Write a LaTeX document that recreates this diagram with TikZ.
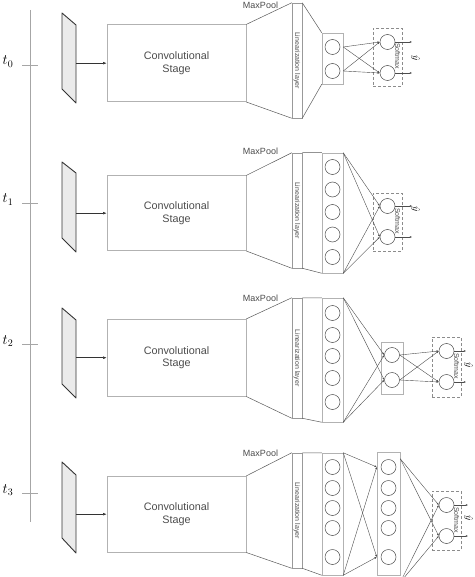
\documentclass[tikz,border=0pt]{standalone}
\usepackage{fontspec}
\setsansfont{Liberation Sans}
\usetikzlibrary{arrows.meta}
\tikzset{
    stagetext/.style = {font=\sffamily\fontsize{10.8}{12.5}\selectfont, text=black!70, align=center},
    pooltext/.style = {font=\sffamily\fontsize{9}{10}\selectfont, text=black!70, anchor=base},
    smalltext/.style = {font=\sffamily\fontsize{7}{8}\selectfont, text=black!70, rotate=-90},
    convbox/.style = {draw=black!30, line width=0.6pt, inner sep=0pt},
    linbox/.style = {draw=black!40, line width=0.5pt, inner sep=0pt, minimum width=10pt},
    layerbox/.style = {draw=black!30, line width=0.5pt, inner sep=0pt},
    smbox/.style = {draw=black!45, densely dashed, line width=0.4pt, inner sep=0pt, minimum width=29pt},
    neuron/.style = {circle, draw=black!70, line width=0.5pt, minimum size=15pt, inner sep=0pt},
    poolline/.style = {draw=black!65, line width=0.5pt},
    conn/.style = {draw=black!70, line width=0.4pt, -{Latex[length=2.2pt,width=2pt]}},
    feed/.style = {draw=black!80, line width=0.5pt, -{Latex[length=3.5pt,width=2.6pt]}},
    inframe/.style = {draw=black!80, fill=black!8, line width=0.9pt, line join=round},
    timeline/.style = {draw=black!35, line width=0.5pt}
}
\begin{document}
\begin{tikzpicture}[x=1pt, y=-1pt]
    \useasboundingbox (0,0) rectangle (474,577);

    \draw[timeline] (30,10) -- (30,522);
    \foreach \y [count=\i from 0] in {65,203,344,493} {
        \draw[timeline] (22,\y) -- (38,\y);
        \node[anchor=base east, inner sep=0pt, font=\Large] (t\i) at (13.5,\y) {$t_{\i}$};
    }

    % t0
    \draw[inframe] (62,13) -- (76,25) -- (76,103) -- (62,89) -- cycle;
    \coordinate (in0) at (76,63.2);
    \node[convbox, minimum width=139pt, minimum height=77pt, stagetext] (cs0) at (176.5,63.2) {Convolutional\\Stage};
    \draw[feed] (in0) -- (cs0.west);
    \node[linbox, minimum height=115pt] (lin0) at (297,60.5) {};
    \node[smalltext] at (lin0) {Linearization layer};
    \node[pooltext] at (260.5,8.5) {MaxPool};
    \draw[poolline] (cs0.north east) -- (lin0.north west) (cs0.south east) -- (lin0.south west);
    \node[layerbox, minimum width=21pt, minimum height=51pt] (h0) at (332.5,58.5) {};
    \node[neuron] (h0a) at (332.5,47) {};
    \node[neuron] (h0b) at (332.5,71) {};
    \draw[poolline] (lin0.north east) -- (h0.north west) (lin0.south east) -- (h0.south west);
    \node[smbox, minimum height=58pt] (s0) at (387.5,57) {};
    \node[neuron] (o0a) at (387.5,42) {};
    \node[neuron] (o0b) at (387.5,73) {};
    \foreach \i in {a,b} \foreach \j in {a,b}
        \draw[conn] (h0.east |- h0\i) -- (o0\j.west);
    \coordinate (y0a) at (412,42);
    \coordinate (y0b) at (412,73);
    \draw[conn] (o0a.east) -- (y0a);
    \draw[conn] (o0b.east) -- (y0b);
    \node[smalltext] at (397.5,56) {Softmax};
    \node[rotate=-90] (yh0) at (415.5,58) {$\hat{y}$};

    % t1
    \draw[inframe] (62,162) -- (76,173) -- (76,252) -- (62,238) -- cycle;
    \coordinate (in1) at (76,213.2);
    \node[convbox, minimum width=139pt, minimum height=75pt, stagetext] (cs1) at (176.5,213.2) {Convolutional\\Stage};
    \draw[feed] (in1) -- (cs1.west);
    \node[linbox, minimum height=115pt] (lin1) at (297,210.5) {};
    \node[smalltext] at (lin1) {Linearization layer};
    \node[pooltext] at (260.5,155) {MaxPool};
    \draw[poolline] (cs1.north east) -- (lin1.north west) (cs1.south east) -- (lin1.south west);
    \node[layerbox, minimum width=21pt, minimum height=120pt] (h1) at (332.5,213) {};
    \foreach \y [count=\i] in {167,189.5,212,234.5,257}
        \node[neuron] (h1\i) at (332.5,\y) {};
    \draw[poolline] (lin1.north east) -- (h1.north west) (lin1.south east) -- (h1.south west);
    \node[smbox, minimum height=58pt] (s1) at (387.5,222) {};
    \node[neuron] (o1a) at (387.5,206) {};
    \node[neuron] (o1b) at (387.5,237) {};
    \foreach \i in {north east,south east} \foreach \j in {a,b}
        \draw[conn] (h1.\i) -- (o1\j.west);
    \coordinate (y1a) at (412,206);
    \coordinate (y1b) at (412,237);
    \draw[conn] (o1a.east) -- (y1a);
    \draw[conn] (o1b.east) -- (y1b);
    \node[smalltext] at (397.5,221) {Softmax};
    \node[rotate=-90] (yh1) at (415.5,209) {$\hat{y}$};

    % t2
    \draw[inframe] (62,308) -- (76,320) -- (76,398) -- (62,384) -- cycle;
    \coordinate (in2) at (76,357.7);
    \node[convbox, minimum width=139pt, minimum height=77pt, stagetext] (cs2) at (176.5,357.7) {Convolutional\\Stage};
    \draw[feed] (in2) -- (cs2.west);
    \node[linbox, minimum height=120pt] (lin2) at (297,358) {};
    \node[smalltext] at (lin2) {Linearization layer};
    \node[pooltext] at (260.5,301) {MaxPool};
    \draw[poolline] (cs2.north east) -- (lin2.north west) (cs2.south east) -- (lin2.south west);
    \node[layerbox, minimum width=21pt, minimum height=124pt] (h2) at (332.5,360) {};
    \foreach \y [count=\i] in {313,335,356,378,402}
        \node[neuron] (h2\i) at (332.5,\y) {};
    \draw[poolline] (lin2.north east) -- (h2.north west) (lin2.south east) -- (h2.south west);
    \node[layerbox, minimum width=22pt, minimum height=52pt] (m2) at (392,368) {};
    \node[neuron] (m2a) at (392,355) {};
    \node[neuron] (m2b) at (392,380) {};
    \foreach \i in {north east,south east} \foreach \j in {a,b}
        \draw[conn] (h2.\i) -- (m2\j.west);
    \node[smbox, minimum height=60pt] (s2) at (446.5,367) {};
    \node[neuron] (o2a) at (446.5,351) {};
    \node[neuron] (o2b) at (446.5,382) {};
    \foreach \i in {a,b} \foreach \j in {a,b}
        \draw[conn] (m2\i.east) -- (o2\j.west);
    \coordinate (y2a) at (466,351);
    \coordinate (y2b) at (466,382);
    \draw[conn] (o2a.east) -- (y2a);
    \draw[conn] (o2b.east) -- (y2b);
    \node[smalltext] at (456.5,366) {Softmax};
    \node[rotate=-90] (yh2) at (468.5,365) {$\hat{y}$};

    % t3
    \draw[inframe] (62,462) -- (76,475) -- (76,553) -- (62,538) -- cycle;
    \coordinate (in3) at (76,514.2);
    \node[convbox, minimum width=139pt, minimum height=76pt, stagetext] (cs3) at (176.5,514.2) {Convolutional\\Stage};
    \draw[feed] (in3) -- (cs3.west);
    \node[linbox, minimum height=115pt] (lin3) at (297,510.5) {};
    \node[smalltext] at (lin3) {Linearization layer};
    \node[pooltext] at (260.5,456) {MaxPool};
    \draw[poolline] (cs3.north east) -- (lin3.north west) (cs3.south east) -- (lin3.south west);
    \node[layerbox, minimum width=21pt, minimum height=122pt] (h3) at (332.5,514) {};
    \node[layerbox, minimum width=23pt, minimum height=123pt] (m3) at (388.5,513.5) {};
    \foreach \y [count=\i] in {467,488,508,528,557} {
        \node[neuron] (h3\i) at (332.5,\y) {};
        \node[neuron] (m3\i) at (388.5,\y) {};
    }
    \draw[poolline] (lin3.north east) -- (h3.north west) (lin3.south east) -- (h3.south west);
    \foreach \i in {north east,south east} \foreach \j in {1,5}
        \draw[conn] (h3.\i) -- (m3.west |- m3\j);
    \node[smbox, minimum height=59pt] (s3) at (446.5,520.5) {};
    \node[neuron] (o3a) at (446.5,505) {};
    \node[neuron] (o3b) at (446.5,536) {};
    \foreach \i in {north east,south east} \foreach \j in {a,b}
        \draw[conn] ([yshift=-7pt]m3.\i) -- (o3\j.west);
    \coordinate (y3a) at (468,505);
    \coordinate (y3b) at (468,536);
    \draw[conn] (o3a.east) -- (y3a);
    \draw[conn] (o3b.east) -- (y3b);
    \node[smalltext] at (456.5,520) {Softmax};
    \node[rotate=-90] (yh3) at (468.5,518) {$\hat{y}$};
\end{tikzpicture}
\end{document}
